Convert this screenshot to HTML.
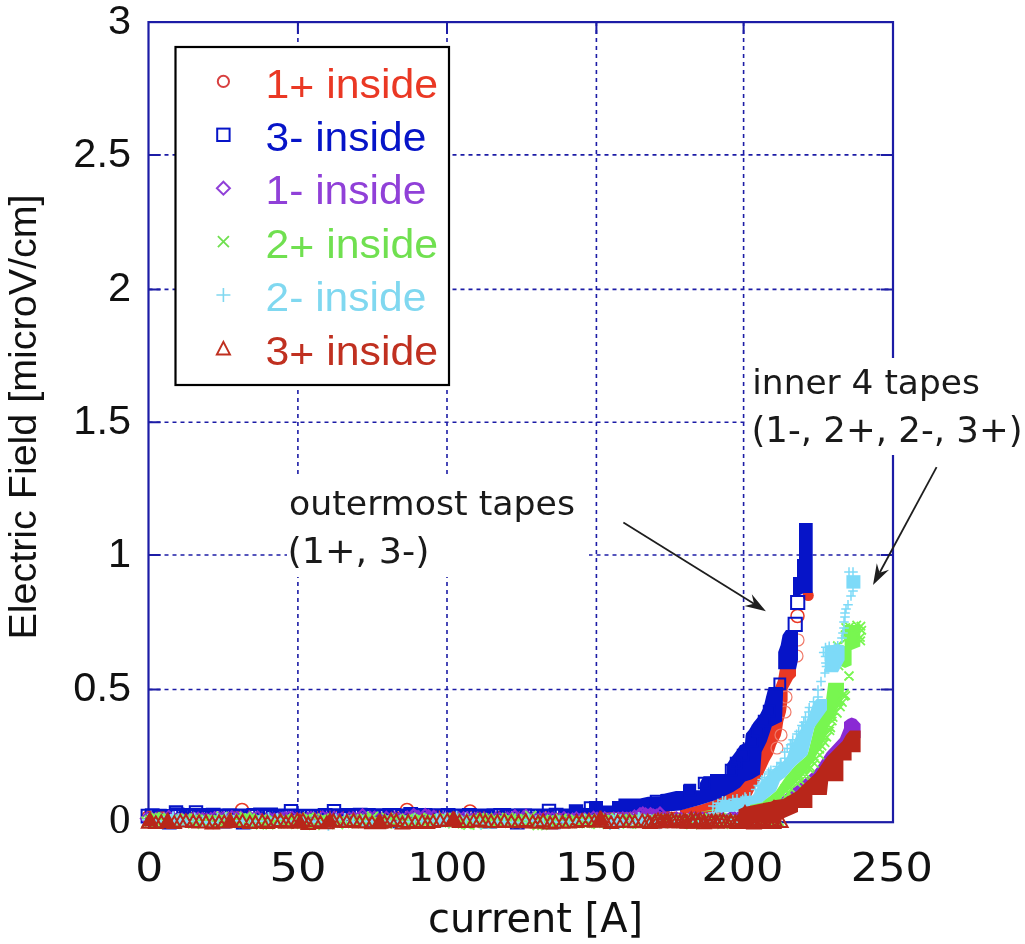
<!DOCTYPE html><html><head><meta charset="utf-8"><title>Electric Field vs current</title>
<style>html,body{margin:0;padding:0;background:#fff;}svg{display:block;}.sans{font-family:"Liberation Sans",Arial,sans-serif;}.serif{font-family:"Liberation Serif","Times New Roman",serif;}.dv{font-family:"DejaVu Sans",Verdana,sans-serif;}</style></head><body>
<svg width="1025" height="944" viewBox="0 0 1025 944">
<rect x="0" y="0" width="1025" height="944" fill="#fff"/>
<path d="M297.9 22.1V822.2 M447.0 22.1V822.2 M596.4 22.1V822.2 M743.6 22.1V822.2 M148.5 154.9H893.0 M148.5 289.4H893.0 M148.5 422.3H893.0 M148.5 555.0H893.0 M148.5 689.5H893.0" stroke="#1c1ca6" stroke-width="1.6" stroke-dasharray="4 4" fill="none"/>
<path d="M297.9 22.1v12M297.9 822.2v-12 M447.0 22.1v12M447.0 822.2v-12 M596.4 22.1v12M596.4 822.2v-12 M743.6 22.1v12M743.6 822.2v-12 M148.5 154.9h12M893.0 154.9h-12 M148.5 289.4h12M893.0 289.4h-12 M148.5 422.3h12M893.0 422.3h-12 M148.5 555.0h12M893.0 555.0h-12 M148.5 689.5h12M893.0 689.5h-12" stroke="#1c1ca6" stroke-width="2" fill="none"/>
<rect x="148.5" y="22.1" width="744.5" height="800.1" fill="none" stroke="#1c1ca6" stroke-width="2.2"/>
<g>
<path d="M142.0 817.0a6 6 0 1 0 12 0a6 6 0 1 0 -12 0M146.4 819.0a6 6 0 1 0 12 0a6 6 0 1 0 -12 0M150.1 816.9a6 6 0 1 0 12 0a6 6 0 1 0 -12 0M153.4 818.4a6 6 0 1 0 12 0a6 6 0 1 0 -12 0M157.1 817.0a6 6 0 1 0 12 0a6 6 0 1 0 -12 0M160.3 816.9a6 6 0 1 0 12 0a6 6 0 1 0 -12 0M163.7 820.3a6 6 0 1 0 12 0a6 6 0 1 0 -12 0M167.8 819.7a6 6 0 1 0 12 0a6 6 0 1 0 -12 0M170.8 821.6a6 6 0 1 0 12 0a6 6 0 1 0 -12 0M174.8 818.2a6 6 0 1 0 12 0a6 6 0 1 0 -12 0M178.7 818.6a6 6 0 1 0 12 0a6 6 0 1 0 -12 0M182.5 818.7a6 6 0 1 0 12 0a6 6 0 1 0 -12 0M185.6 818.8a6 6 0 1 0 12 0a6 6 0 1 0 -12 0M188.7 819.3a6 6 0 1 0 12 0a6 6 0 1 0 -12 0M192.4 816.4a6 6 0 1 0 12 0a6 6 0 1 0 -12 0M196.1 819.3a6 6 0 1 0 12 0a6 6 0 1 0 -12 0M200.1 816.7a6 6 0 1 0 12 0a6 6 0 1 0 -12 0M203.8 818.5a6 6 0 1 0 12 0a6 6 0 1 0 -12 0M207.2 822.5a6 6 0 1 0 12 0a6 6 0 1 0 -12 0M211.5 818.4a6 6 0 1 0 12 0a6 6 0 1 0 -12 0M215.5 818.2a6 6 0 1 0 12 0a6 6 0 1 0 -12 0M219.0 819.3a6 6 0 1 0 12 0a6 6 0 1 0 -12 0M222.1 818.6a6 6 0 1 0 12 0a6 6 0 1 0 -12 0M226.3 817.3a6 6 0 1 0 12 0a6 6 0 1 0 -12 0M229.9 820.7a6 6 0 1 0 12 0a6 6 0 1 0 -12 0M232.9 817.9a6 6 0 1 0 12 0a6 6 0 1 0 -12 0M236.2 819.6a6 6 0 1 0 12 0a6 6 0 1 0 -12 0M240.7 817.8a6 6 0 1 0 12 0a6 6 0 1 0 -12 0M244.3 820.0a6 6 0 1 0 12 0a6 6 0 1 0 -12 0M248.5 819.2a6 6 0 1 0 12 0a6 6 0 1 0 -12 0M251.9 819.4a6 6 0 1 0 12 0a6 6 0 1 0 -12 0M256.3 819.1a6 6 0 1 0 12 0a6 6 0 1 0 -12 0M260.4 819.2a6 6 0 1 0 12 0a6 6 0 1 0 -12 0M263.6 819.1a6 6 0 1 0 12 0a6 6 0 1 0 -12 0M266.7 818.7a6 6 0 1 0 12 0a6 6 0 1 0 -12 0M270.5 817.8a6 6 0 1 0 12 0a6 6 0 1 0 -12 0M274.2 819.2a6 6 0 1 0 12 0a6 6 0 1 0 -12 0M277.4 820.3a6 6 0 1 0 12 0a6 6 0 1 0 -12 0M281.4 819.4a6 6 0 1 0 12 0a6 6 0 1 0 -12 0M284.7 819.3a6 6 0 1 0 12 0a6 6 0 1 0 -12 0M288.1 820.6a6 6 0 1 0 12 0a6 6 0 1 0 -12 0M291.5 818.1a6 6 0 1 0 12 0a6 6 0 1 0 -12 0M295.9 818.8a6 6 0 1 0 12 0a6 6 0 1 0 -12 0M300.1 819.7a6 6 0 1 0 12 0a6 6 0 1 0 -12 0M304.1 821.4a6 6 0 1 0 12 0a6 6 0 1 0 -12 0M307.4 820.6a6 6 0 1 0 12 0a6 6 0 1 0 -12 0M310.8 818.7a6 6 0 1 0 12 0a6 6 0 1 0 -12 0M314.3 817.4a6 6 0 1 0 12 0a6 6 0 1 0 -12 0M317.4 819.8a6 6 0 1 0 12 0a6 6 0 1 0 -12 0M320.7 819.4a6 6 0 1 0 12 0a6 6 0 1 0 -12 0M324.6 817.6a6 6 0 1 0 12 0a6 6 0 1 0 -12 0M329.1 819.5a6 6 0 1 0 12 0a6 6 0 1 0 -12 0M332.8 816.4a6 6 0 1 0 12 0a6 6 0 1 0 -12 0M336.1 817.4a6 6 0 1 0 12 0a6 6 0 1 0 -12 0M339.3 820.4a6 6 0 1 0 12 0a6 6 0 1 0 -12 0M342.7 817.3a6 6 0 1 0 12 0a6 6 0 1 0 -12 0M346.0 818.3a6 6 0 1 0 12 0a6 6 0 1 0 -12 0M349.3 815.7a6 6 0 1 0 12 0a6 6 0 1 0 -12 0M353.7 819.7a6 6 0 1 0 12 0a6 6 0 1 0 -12 0M357.3 817.4a6 6 0 1 0 12 0a6 6 0 1 0 -12 0M360.5 821.5a6 6 0 1 0 12 0a6 6 0 1 0 -12 0M363.8 819.2a6 6 0 1 0 12 0a6 6 0 1 0 -12 0M367.9 818.4a6 6 0 1 0 12 0a6 6 0 1 0 -12 0M371.8 820.7a6 6 0 1 0 12 0a6 6 0 1 0 -12 0M375.2 819.4a6 6 0 1 0 12 0a6 6 0 1 0 -12 0M378.3 820.2a6 6 0 1 0 12 0a6 6 0 1 0 -12 0M381.7 816.3a6 6 0 1 0 12 0a6 6 0 1 0 -12 0M385.6 817.6a6 6 0 1 0 12 0a6 6 0 1 0 -12 0M389.0 819.2a6 6 0 1 0 12 0a6 6 0 1 0 -12 0M392.0 818.1a6 6 0 1 0 12 0a6 6 0 1 0 -12 0M395.4 818.1a6 6 0 1 0 12 0a6 6 0 1 0 -12 0M398.7 818.6a6 6 0 1 0 12 0a6 6 0 1 0 -12 0M402.3 817.9a6 6 0 1 0 12 0a6 6 0 1 0 -12 0M405.8 818.2a6 6 0 1 0 12 0a6 6 0 1 0 -12 0M410.1 820.2a6 6 0 1 0 12 0a6 6 0 1 0 -12 0M414.2 818.3a6 6 0 1 0 12 0a6 6 0 1 0 -12 0M418.1 818.7a6 6 0 1 0 12 0a6 6 0 1 0 -12 0M421.1 818.7a6 6 0 1 0 12 0a6 6 0 1 0 -12 0M425.4 817.6a6 6 0 1 0 12 0a6 6 0 1 0 -12 0M428.5 815.6a6 6 0 1 0 12 0a6 6 0 1 0 -12 0M432.4 816.6a6 6 0 1 0 12 0a6 6 0 1 0 -12 0M435.9 818.7a6 6 0 1 0 12 0a6 6 0 1 0 -12 0M440.4 819.8a6 6 0 1 0 12 0a6 6 0 1 0 -12 0M444.5 819.2a6 6 0 1 0 12 0a6 6 0 1 0 -12 0M448.9 818.3a6 6 0 1 0 12 0a6 6 0 1 0 -12 0M453.1 816.6a6 6 0 1 0 12 0a6 6 0 1 0 -12 0M457.4 817.4a6 6 0 1 0 12 0a6 6 0 1 0 -12 0M461.8 820.0a6 6 0 1 0 12 0a6 6 0 1 0 -12 0M466.1 816.7a6 6 0 1 0 12 0a6 6 0 1 0 -12 0M470.4 819.6a6 6 0 1 0 12 0a6 6 0 1 0 -12 0M474.2 817.7a6 6 0 1 0 12 0a6 6 0 1 0 -12 0M478.1 817.7a6 6 0 1 0 12 0a6 6 0 1 0 -12 0M482.0 820.0a6 6 0 1 0 12 0a6 6 0 1 0 -12 0M486.5 819.3a6 6 0 1 0 12 0a6 6 0 1 0 -12 0M490.8 818.3a6 6 0 1 0 12 0a6 6 0 1 0 -12 0M494.9 817.3a6 6 0 1 0 12 0a6 6 0 1 0 -12 0M498.8 816.4a6 6 0 1 0 12 0a6 6 0 1 0 -12 0M501.9 819.3a6 6 0 1 0 12 0a6 6 0 1 0 -12 0M506.1 820.1a6 6 0 1 0 12 0a6 6 0 1 0 -12 0M509.8 818.8a6 6 0 1 0 12 0a6 6 0 1 0 -12 0M513.1 818.1a6 6 0 1 0 12 0a6 6 0 1 0 -12 0M517.0 817.2a6 6 0 1 0 12 0a6 6 0 1 0 -12 0M521.4 818.5a6 6 0 1 0 12 0a6 6 0 1 0 -12 0M524.9 818.7a6 6 0 1 0 12 0a6 6 0 1 0 -12 0M528.9 818.7a6 6 0 1 0 12 0a6 6 0 1 0 -12 0M533.3 819.2a6 6 0 1 0 12 0a6 6 0 1 0 -12 0M537.2 816.1a6 6 0 1 0 12 0a6 6 0 1 0 -12 0M540.7 819.4a6 6 0 1 0 12 0a6 6 0 1 0 -12 0M544.7 818.9a6 6 0 1 0 12 0a6 6 0 1 0 -12 0M548.9 819.7a6 6 0 1 0 12 0a6 6 0 1 0 -12 0M553.3 819.4a6 6 0 1 0 12 0a6 6 0 1 0 -12 0M557.2 817.7a6 6 0 1 0 12 0a6 6 0 1 0 -12 0M560.7 819.4a6 6 0 1 0 12 0a6 6 0 1 0 -12 0M564.9 819.6a6 6 0 1 0 12 0a6 6 0 1 0 -12 0M569.2 817.8a6 6 0 1 0 12 0a6 6 0 1 0 -12 0M572.6 815.6a6 6 0 1 0 12 0a6 6 0 1 0 -12 0M575.9 817.6a6 6 0 1 0 12 0a6 6 0 1 0 -12 0M579.2 818.8a6 6 0 1 0 12 0a6 6 0 1 0 -12 0M582.8 817.5a6 6 0 1 0 12 0a6 6 0 1 0 -12 0M586.3 817.5a6 6 0 1 0 12 0a6 6 0 1 0 -12 0M590.5 819.8a6 6 0 1 0 12 0a6 6 0 1 0 -12 0M593.7 818.4a6 6 0 1 0 12 0a6 6 0 1 0 -12 0M596.7 818.7a6 6 0 1 0 12 0a6 6 0 1 0 -12 0M600.8 818.2a6 6 0 1 0 12 0a6 6 0 1 0 -12 0M604.6 817.7a6 6 0 1 0 12 0a6 6 0 1 0 -12 0M607.6 820.5a6 6 0 1 0 12 0a6 6 0 1 0 -12 0M610.8 818.2a6 6 0 1 0 12 0a6 6 0 1 0 -12 0M615.1 818.6a6 6 0 1 0 12 0a6 6 0 1 0 -12 0M618.4 818.7a6 6 0 1 0 12 0a6 6 0 1 0 -12 0M622.4 818.8a6 6 0 1 0 12 0a6 6 0 1 0 -12 0M626.1 817.3a6 6 0 1 0 12 0a6 6 0 1 0 -12 0M630.3 817.2a6 6 0 1 0 12 0a6 6 0 1 0 -12 0M634.7 818.2a6 6 0 1 0 12 0a6 6 0 1 0 -12 0M638.4 817.8a6 6 0 1 0 12 0a6 6 0 1 0 -12 0M641.7 819.9a6 6 0 1 0 12 0a6 6 0 1 0 -12 0M645.8 818.6a6 6 0 1 0 12 0a6 6 0 1 0 -12 0M649.0 818.3a6 6 0 1 0 12 0a6 6 0 1 0 -12 0M653.1 819.6a6 6 0 1 0 12 0a6 6 0 1 0 -12 0M656.9 817.0a6 6 0 1 0 12 0a6 6 0 1 0 -12 0M660.4 817.2a6 6 0 1 0 12 0a6 6 0 1 0 -12 0M664.6 818.9a6 6 0 1 0 12 0a6 6 0 1 0 -12 0M669.0 818.2a6 6 0 1 0 12 0a6 6 0 1 0 -12 0M673.1 819.4a6 6 0 1 0 12 0a6 6 0 1 0 -12 0M677.1 819.5a6 6 0 1 0 12 0a6 6 0 1 0 -12 0M681.4 817.4a6 6 0 1 0 12 0a6 6 0 1 0 -12 0M685.7 819.6a6 6 0 1 0 12 0a6 6 0 1 0 -12 0M689.9 819.8a6 6 0 1 0 12 0a6 6 0 1 0 -12 0M693.9 818.0a6 6 0 1 0 12 0a6 6 0 1 0 -12 0M697.2 818.1a6 6 0 1 0 12 0a6 6 0 1 0 -12 0M701.2 816.3a6 6 0 1 0 12 0a6 6 0 1 0 -12 0M705.3 819.1a6 6 0 1 0 12 0a6 6 0 1 0 -12 0M709.7 821.0a6 6 0 1 0 12 0a6 6 0 1 0 -12 0M235.5 810.0a6.5 6.5 0 1 0 13.0 0a6.5 6.5 0 1 0 -13.0 0M400.5 810.0a6.5 6.5 0 1 0 13.0 0a6.5 6.5 0 1 0 -13.0 0M463.5 811.5a6.5 6.5 0 1 0 13.0 0a6.5 6.5 0 1 0 -13.0 0" fill="none" stroke="#ea3824" stroke-width="1.6"/>
<path d="M680.0 813.5L720.0 813.5L723.0 805.0L740.0 800.0L750.3 798.0L755.0 788.5L762.0 776.8L769.0 761.6L773.0 754.5L776.0 745.2L780.7 735.9L782.0 730.0L783.3 721.4L786.0 712.0L787.6 700.0L787.6 689.0L793.0 679.0L796.0 676.0L796.0 668.0L780.0 668.0L778.0 680.0L770.0 700.0L755.0 740.0L740.0 770.0L715.0 800.0L700.0 805.0L680.0 810.0Z" fill="#ea3824"/>
<path d="M792.0 640.0a6 6 0 1 0 12 0a6 6 0 1 0 -12 0M791.0 656.0a6 6 0 1 0 12 0a6 6 0 1 0 -12 0M780.0 697.0a6 6 0 1 0 12 0a6 6 0 1 0 -12 0M779.0 712.0a6 6 0 1 0 12 0a6 6 0 1 0 -12 0M775.0 735.0a6 6 0 1 0 12 0a6 6 0 1 0 -12 0M771.0 748.0a6 6 0 1 0 12 0a6 6 0 1 0 -12 0" fill="none" stroke="#f07a6a" stroke-width="1.2"/>
<path d="M791.0 616.0a6.5 6.5 0 1 0 13.0 0a6.5 6.5 0 1 0 -13.0 0" fill="none" stroke="#ea3824" stroke-width="1.5"/>
<circle cx="808.2" cy="595.5" r="5.6" fill="#ea3824"/>
<path d="M141.6 809.7h12.8v12.8h-12.8zM145.8 809.2h12.8v12.8h-12.8zM149.1 814.2h12.8v12.8h-12.8zM153.0 809.8h12.8v12.8h-12.8zM155.9 810.4h12.8v12.8h-12.8zM158.9 810.0h12.8v12.8h-12.8zM162.9 815.7h12.8v12.8h-12.8zM166.8 810.1h12.8v12.8h-12.8zM170.6 808.4h12.8v12.8h-12.8zM173.6 809.7h12.8v12.8h-12.8zM177.2 809.5h12.8v12.8h-12.8zM180.7 808.9h12.8v12.8h-12.8zM184.4 808.9h12.8v12.8h-12.8zM188.5 810.3h12.8v12.8h-12.8zM192.6 809.0h12.8v12.8h-12.8zM195.7 809.5h12.8v12.8h-12.8zM199.3 810.9h12.8v12.8h-12.8zM202.8 809.8h12.8v12.8h-12.8zM206.8 808.8h12.8v12.8h-12.8zM209.7 809.6h12.8v12.8h-12.8zM213.2 810.0h12.8v12.8h-12.8zM216.7 814.8h12.8v12.8h-12.8zM220.1 810.1h12.8v12.8h-12.8zM223.4 809.3h12.8v12.8h-12.8zM227.1 810.2h12.8v12.8h-12.8zM230.0 810.2h12.8v12.8h-12.8zM233.1 809.4h12.8v12.8h-12.8zM236.8 815.8h12.8v12.8h-12.8zM240.7 814.5h12.8v12.8h-12.8zM243.8 809.6h12.8v12.8h-12.8zM247.3 809.1h12.8v12.8h-12.8zM250.3 809.9h12.8v12.8h-12.8zM254.1 808.6h12.8v12.8h-12.8zM257.8 809.4h12.8v12.8h-12.8zM260.9 810.0h12.8v12.8h-12.8zM264.2 808.6h12.8v12.8h-12.8zM268.4 810.6h12.8v12.8h-12.8zM271.4 809.6h12.8v12.8h-12.8zM275.3 810.4h12.8v12.8h-12.8zM278.7 810.1h12.8v12.8h-12.8zM281.7 809.6h12.8v12.8h-12.8zM284.8 809.5h12.8v12.8h-12.8zM289.0 810.0h12.8v12.8h-12.8zM292.9 810.0h12.8v12.8h-12.8zM296.7 809.8h12.8v12.8h-12.8zM299.6 809.7h12.8v12.8h-12.8zM303.2 809.8h12.8v12.8h-12.8zM306.3 809.9h12.8v12.8h-12.8zM310.6 809.7h12.8v12.8h-12.8zM314.8 809.7h12.8v12.8h-12.8zM318.7 809.0h12.8v12.8h-12.8zM322.2 809.7h12.8v12.8h-12.8zM325.0 809.8h12.8v12.8h-12.8zM328.5 809.3h12.8v12.8h-12.8zM331.9 809.9h12.8v12.8h-12.8zM334.7 810.1h12.8v12.8h-12.8zM338.7 810.1h12.8v12.8h-12.8zM342.1 809.1h12.8v12.8h-12.8zM345.7 809.7h12.8v12.8h-12.8zM349.8 809.2h12.8v12.8h-12.8zM353.8 808.7h12.8v12.8h-12.8zM357.9 810.2h12.8v12.8h-12.8zM361.9 808.9h12.8v12.8h-12.8zM364.8 810.0h12.8v12.8h-12.8zM368.3 814.4h12.8v12.8h-12.8zM372.0 810.2h12.8v12.8h-12.8zM376.2 809.2h12.8v12.8h-12.8zM379.9 810.2h12.8v12.8h-12.8zM383.3 809.1h12.8v12.8h-12.8zM387.2 809.0h12.8v12.8h-12.8zM390.1 809.6h12.8v12.8h-12.8zM393.5 814.5h12.8v12.8h-12.8zM396.6 809.9h12.8v12.8h-12.8zM400.7 809.8h12.8v12.8h-12.8zM404.3 808.1h12.8v12.8h-12.8zM408.0 808.9h12.8v12.8h-12.8zM410.9 809.6h12.8v12.8h-12.8zM415.1 809.4h12.8v12.8h-12.8zM418.6 808.9h12.8v12.8h-12.8zM421.5 809.6h12.8v12.8h-12.8zM425.0 809.2h12.8v12.8h-12.8zM428.2 809.3h12.8v12.8h-12.8zM431.8 809.5h12.8v12.8h-12.8zM434.7 809.2h12.8v12.8h-12.8zM437.5 809.6h12.8v12.8h-12.8zM441.7 809.1h12.8v12.8h-12.8zM444.5 809.8h12.8v12.8h-12.8zM448.7 809.5h12.8v12.8h-12.8zM452.2 809.6h12.8v12.8h-12.8zM456.4 810.2h12.8v12.8h-12.8zM459.9 809.9h12.8v12.8h-12.8zM462.9 809.0h12.8v12.8h-12.8zM466.4 810.2h12.8v12.8h-12.8zM469.4 809.8h12.8v12.8h-12.8zM473.2 809.5h12.8v12.8h-12.8zM476.6 810.3h12.8v12.8h-12.8zM480.2 810.4h12.8v12.8h-12.8zM483.4 814.7h12.8v12.8h-12.8zM487.5 809.3h12.8v12.8h-12.8zM490.7 809.3h12.8v12.8h-12.8zM494.3 809.0h12.8v12.8h-12.8zM497.4 809.0h12.8v12.8h-12.8zM501.7 809.7h12.8v12.8h-12.8zM504.6 809.5h12.8v12.8h-12.8zM508.0 810.1h12.8v12.8h-12.8zM510.9 815.7h12.8v12.8h-12.8zM514.8 809.3h12.8v12.8h-12.8zM518.3 809.2h12.8v12.8h-12.8zM521.6 809.7h12.8v12.8h-12.8zM524.6 809.4h12.8v12.8h-12.8zM528.3 809.7h12.8v12.8h-12.8zM531.5 810.1h12.8v12.8h-12.8zM534.8 810.0h12.8v12.8h-12.8zM538.5 809.6h12.8v12.8h-12.8zM542.6 809.4h12.8v12.8h-12.8zM546.8 815.4h12.8v12.8h-12.8zM549.7 808.8h12.8v12.8h-12.8zM552.9 809.7h12.8v12.8h-12.8zM555.8 809.5h12.8v12.8h-12.8zM559.1 809.4h12.8v12.8h-12.8zM562.9 809.9h12.8v12.8h-12.8zM566.8 810.0h12.8v12.8h-12.8zM569.8 808.6h12.8v12.8h-12.8zM574.0 809.1h12.8v12.8h-12.8zM577.5 809.5h12.8v12.8h-12.8zM580.9 810.0h12.8v12.8h-12.8zM585.0 809.3h12.8v12.8h-12.8zM588.4 810.0h12.8v12.8h-12.8zM591.7 808.8h12.8v12.8h-12.8zM284.8 805.0h12.4v12.4h-12.4zM327.8 805.0h12.4v12.4h-12.4zM542.8 804.8h12.4v12.4h-12.4zM569.8 805.3h12.4v12.4h-12.4zM169.8 806.3h12.4v12.4h-12.4zM189.8 806.3h12.4v12.4h-12.4z" fill="none" stroke="#0614c8" stroke-width="2"/>
<path d="M560.0 809.2L570.0 809.2L570.0 805.4L583.0 805.4L583.0 808.0L589.0 808.0L589.0 801.0L603.0 801.0L603.0 805.4L612.0 805.4L612.0 801.0L618.4 801.0L618.4 798.4L640.0 798.4L648.0 796.7L660.3 796.5L660.3 794.0L664.0 793.8L676.0 791.0L683.0 791.0L683.0 784.5L695.0 784.5L695.0 790.3L700.0 790.3L700.0 782.7L703.5 776.3L710.0 776.3L710.0 774.0L727.0 774.0L727.0 764.0L731.0 758.0L737.0 750.0L740.0 745.2L745.0 742.9L746.0 733.5L749.0 730.0L753.4 722.7L759.7 715.0L763.5 707.4L766.0 697.0L768.6 687.0L783.3 687.0L782.0 721.4L771.8 726.5L766.7 741.8L761.6 752.0L760.0 774.5L752.0 779.2L745.0 781.5L740.0 787.4L733.0 792.0L722.0 797.3L715.0 800.3L700.0 805.0L680.0 810.5L660.0 812.0L560.0 813.0Z" fill="#0614c8"/>
<path d="M786.0 630.0L782.6 635.0L780.7 645.0L778.2 652.0L778.2 669.3L796.0 669.3L798.0 660.0L798.0 630.0Z" fill="#0614c8"/>
<path d="M799.0 523.0L812.7 523.0L812.7 593.0L804.0 593.0L800.0 595.0L793.0 595.0L793.0 577.0L797.0 577.0L797.0 559.0L799.0 559.0Z" fill="#0614c8"/>
<path d="M791.1 595.9h13.2v13.2h-13.2zM788.6 617.7h13.2v13.2h-13.2zM774.4 678.5h10.8v10.8h-10.8zM584.8 802.3h10.4v10.4h-10.4zM650.8 795.8h10.4v10.4h-10.4zM684.8 784.8h10.4v10.4h-10.4zM698.8 777.8h10.4v10.4h-10.4zM725.8 764.8h10.4v10.4h-10.4zM730.8 757.8h10.4v10.4h-10.4zM737.8 749.8h10.4v10.4h-10.4zM746.8 735.8h10.4v10.4h-10.4zM752.8 725.8h10.4v10.4h-10.4zM758.8 715.8h10.4v10.4h-10.4zM763.8 705.8h10.4v10.4h-10.4z" fill="none" stroke="#0614c8" stroke-width="2"/>
<path d="M147.0 812.3l6.3 6.3l-6.3 6.3l-6.3 -6.3zM151.6 812.4l6.3 6.3l-6.3 6.3l-6.3 -6.3zM156.0 812.7l6.3 6.3l-6.3 6.3l-6.3 -6.3zM160.6 812.9l6.3 6.3l-6.3 6.3l-6.3 -6.3zM164.7 813.1l6.3 6.3l-6.3 6.3l-6.3 -6.3zM168.8 810.8l6.3 6.3l-6.3 6.3l-6.3 -6.3zM173.1 811.9l6.3 6.3l-6.3 6.3l-6.3 -6.3zM177.6 813.9l6.3 6.3l-6.3 6.3l-6.3 -6.3zM182.1 813.3l6.3 6.3l-6.3 6.3l-6.3 -6.3zM185.5 814.2l6.3 6.3l-6.3 6.3l-6.3 -6.3zM190.1 813.6l6.3 6.3l-6.3 6.3l-6.3 -6.3zM193.6 812.6l6.3 6.3l-6.3 6.3l-6.3 -6.3zM198.0 812.5l6.3 6.3l-6.3 6.3l-6.3 -6.3zM202.3 812.9l6.3 6.3l-6.3 6.3l-6.3 -6.3zM206.7 813.5l6.3 6.3l-6.3 6.3l-6.3 -6.3zM210.8 813.0l6.3 6.3l-6.3 6.3l-6.3 -6.3zM214.6 812.0l6.3 6.3l-6.3 6.3l-6.3 -6.3zM219.4 812.4l6.3 6.3l-6.3 6.3l-6.3 -6.3zM223.5 812.0l6.3 6.3l-6.3 6.3l-6.3 -6.3zM227.8 812.4l6.3 6.3l-6.3 6.3l-6.3 -6.3zM231.8 811.0l6.3 6.3l-6.3 6.3l-6.3 -6.3zM236.3 812.0l6.3 6.3l-6.3 6.3l-6.3 -6.3zM240.8 811.4l6.3 6.3l-6.3 6.3l-6.3 -6.3zM245.4 814.6l6.3 6.3l-6.3 6.3l-6.3 -6.3zM249.6 811.4l6.3 6.3l-6.3 6.3l-6.3 -6.3zM253.7 812.5l6.3 6.3l-6.3 6.3l-6.3 -6.3zM257.6 811.3l6.3 6.3l-6.3 6.3l-6.3 -6.3zM261.6 813.8l6.3 6.3l-6.3 6.3l-6.3 -6.3zM266.4 814.1l6.3 6.3l-6.3 6.3l-6.3 -6.3zM270.2 813.2l6.3 6.3l-6.3 6.3l-6.3 -6.3zM274.2 813.4l6.3 6.3l-6.3 6.3l-6.3 -6.3zM277.9 813.2l6.3 6.3l-6.3 6.3l-6.3 -6.3zM281.7 812.8l6.3 6.3l-6.3 6.3l-6.3 -6.3zM285.1 812.0l6.3 6.3l-6.3 6.3l-6.3 -6.3zM288.7 811.7l6.3 6.3l-6.3 6.3l-6.3 -6.3zM292.1 811.7l6.3 6.3l-6.3 6.3l-6.3 -6.3zM296.8 813.2l6.3 6.3l-6.3 6.3l-6.3 -6.3zM300.1 813.3l6.3 6.3l-6.3 6.3l-6.3 -6.3zM303.7 813.3l6.3 6.3l-6.3 6.3l-6.3 -6.3zM307.4 812.7l6.3 6.3l-6.3 6.3l-6.3 -6.3zM311.0 811.7l6.3 6.3l-6.3 6.3l-6.3 -6.3zM314.6 812.8l6.3 6.3l-6.3 6.3l-6.3 -6.3zM319.0 813.4l6.3 6.3l-6.3 6.3l-6.3 -6.3zM322.8 811.3l6.3 6.3l-6.3 6.3l-6.3 -6.3zM326.8 812.4l6.3 6.3l-6.3 6.3l-6.3 -6.3zM330.5 814.4l6.3 6.3l-6.3 6.3l-6.3 -6.3zM334.3 811.6l6.3 6.3l-6.3 6.3l-6.3 -6.3zM338.4 813.9l6.3 6.3l-6.3 6.3l-6.3 -6.3zM342.1 812.6l6.3 6.3l-6.3 6.3l-6.3 -6.3zM345.5 814.4l6.3 6.3l-6.3 6.3l-6.3 -6.3zM349.3 812.4l6.3 6.3l-6.3 6.3l-6.3 -6.3zM353.4 812.2l6.3 6.3l-6.3 6.3l-6.3 -6.3zM358.2 812.8l6.3 6.3l-6.3 6.3l-6.3 -6.3zM362.5 812.9l6.3 6.3l-6.3 6.3l-6.3 -6.3zM366.5 813.0l6.3 6.3l-6.3 6.3l-6.3 -6.3zM370.4 813.3l6.3 6.3l-6.3 6.3l-6.3 -6.3zM374.6 811.5l6.3 6.3l-6.3 6.3l-6.3 -6.3zM378.1 813.3l6.3 6.3l-6.3 6.3l-6.3 -6.3zM381.8 813.6l6.3 6.3l-6.3 6.3l-6.3 -6.3zM386.4 811.6l6.3 6.3l-6.3 6.3l-6.3 -6.3zM391.2 812.8l6.3 6.3l-6.3 6.3l-6.3 -6.3zM394.9 812.4l6.3 6.3l-6.3 6.3l-6.3 -6.3zM399.3 812.8l6.3 6.3l-6.3 6.3l-6.3 -6.3zM402.6 813.7l6.3 6.3l-6.3 6.3l-6.3 -6.3zM407.2 811.3l6.3 6.3l-6.3 6.3l-6.3 -6.3zM410.6 812.7l6.3 6.3l-6.3 6.3l-6.3 -6.3zM414.0 814.3l6.3 6.3l-6.3 6.3l-6.3 -6.3zM418.1 810.7l6.3 6.3l-6.3 6.3l-6.3 -6.3zM422.2 813.3l6.3 6.3l-6.3 6.3l-6.3 -6.3zM426.8 812.4l6.3 6.3l-6.3 6.3l-6.3 -6.3zM430.8 814.4l6.3 6.3l-6.3 6.3l-6.3 -6.3zM435.4 814.3l6.3 6.3l-6.3 6.3l-6.3 -6.3zM439.0 813.8l6.3 6.3l-6.3 6.3l-6.3 -6.3zM443.2 812.4l6.3 6.3l-6.3 6.3l-6.3 -6.3zM447.7 812.8l6.3 6.3l-6.3 6.3l-6.3 -6.3zM451.5 812.8l6.3 6.3l-6.3 6.3l-6.3 -6.3zM455.2 813.2l6.3 6.3l-6.3 6.3l-6.3 -6.3zM459.2 812.7l6.3 6.3l-6.3 6.3l-6.3 -6.3zM463.6 812.1l6.3 6.3l-6.3 6.3l-6.3 -6.3zM467.0 812.1l6.3 6.3l-6.3 6.3l-6.3 -6.3zM471.8 813.5l6.3 6.3l-6.3 6.3l-6.3 -6.3zM476.3 812.8l6.3 6.3l-6.3 6.3l-6.3 -6.3zM480.2 812.8l6.3 6.3l-6.3 6.3l-6.3 -6.3zM484.6 813.0l6.3 6.3l-6.3 6.3l-6.3 -6.3zM488.5 814.1l6.3 6.3l-6.3 6.3l-6.3 -6.3zM491.9 814.5l6.3 6.3l-6.3 6.3l-6.3 -6.3zM495.5 812.8l6.3 6.3l-6.3 6.3l-6.3 -6.3zM499.7 812.7l6.3 6.3l-6.3 6.3l-6.3 -6.3zM503.8 813.7l6.3 6.3l-6.3 6.3l-6.3 -6.3zM507.5 812.4l6.3 6.3l-6.3 6.3l-6.3 -6.3zM511.8 813.7l6.3 6.3l-6.3 6.3l-6.3 -6.3zM515.5 813.4l6.3 6.3l-6.3 6.3l-6.3 -6.3zM519.3 814.3l6.3 6.3l-6.3 6.3l-6.3 -6.3zM524.0 811.6l6.3 6.3l-6.3 6.3l-6.3 -6.3zM527.8 812.3l6.3 6.3l-6.3 6.3l-6.3 -6.3zM532.4 813.3l6.3 6.3l-6.3 6.3l-6.3 -6.3zM535.8 813.2l6.3 6.3l-6.3 6.3l-6.3 -6.3zM540.1 812.8l6.3 6.3l-6.3 6.3l-6.3 -6.3zM544.0 812.4l6.3 6.3l-6.3 6.3l-6.3 -6.3zM548.6 812.6l6.3 6.3l-6.3 6.3l-6.3 -6.3zM552.2 812.7l6.3 6.3l-6.3 6.3l-6.3 -6.3zM555.8 813.6l6.3 6.3l-6.3 6.3l-6.3 -6.3zM559.2 813.5l6.3 6.3l-6.3 6.3l-6.3 -6.3zM563.9 811.9l6.3 6.3l-6.3 6.3l-6.3 -6.3zM568.1 813.4l6.3 6.3l-6.3 6.3l-6.3 -6.3zM572.6 813.3l6.3 6.3l-6.3 6.3l-6.3 -6.3zM576.4 812.1l6.3 6.3l-6.3 6.3l-6.3 -6.3zM580.3 813.8l6.3 6.3l-6.3 6.3l-6.3 -6.3zM584.6 813.0l6.3 6.3l-6.3 6.3l-6.3 -6.3zM589.4 813.2l6.3 6.3l-6.3 6.3l-6.3 -6.3zM593.6 811.6l6.3 6.3l-6.3 6.3l-6.3 -6.3zM597.0 812.5l6.3 6.3l-6.3 6.3l-6.3 -6.3zM601.2 813.6l6.3 6.3l-6.3 6.3l-6.3 -6.3zM604.7 812.1l6.3 6.3l-6.3 6.3l-6.3 -6.3zM609.2 813.6l6.3 6.3l-6.3 6.3l-6.3 -6.3zM613.7 812.5l6.3 6.3l-6.3 6.3l-6.3 -6.3zM618.2 812.6l6.3 6.3l-6.3 6.3l-6.3 -6.3zM622.8 812.1l6.3 6.3l-6.3 6.3l-6.3 -6.3zM626.9 812.6l6.3 6.3l-6.3 6.3l-6.3 -6.3zM630.4 812.3l6.3 6.3l-6.3 6.3l-6.3 -6.3zM634.5 810.3l6.3 6.3l-6.3 6.3l-6.3 -6.3zM638.8 813.2l6.3 6.3l-6.3 6.3l-6.3 -6.3zM643.5 812.4l6.3 6.3l-6.3 6.3l-6.3 -6.3zM647.8 813.0l6.3 6.3l-6.3 6.3l-6.3 -6.3zM651.5 813.3l6.3 6.3l-6.3 6.3l-6.3 -6.3zM655.6 812.6l6.3 6.3l-6.3 6.3l-6.3 -6.3zM660.3 812.1l6.3 6.3l-6.3 6.3l-6.3 -6.3zM664.2 812.4l6.3 6.3l-6.3 6.3l-6.3 -6.3zM668.9 813.0l6.3 6.3l-6.3 6.3l-6.3 -6.3zM672.4 813.8l6.3 6.3l-6.3 6.3l-6.3 -6.3zM676.6 812.3l6.3 6.3l-6.3 6.3l-6.3 -6.3zM680.7 812.7l6.3 6.3l-6.3 6.3l-6.3 -6.3zM685.5 814.9l6.3 6.3l-6.3 6.3l-6.3 -6.3zM690.0 812.5l6.3 6.3l-6.3 6.3l-6.3 -6.3zM694.6 812.6l6.3 6.3l-6.3 6.3l-6.3 -6.3zM698.3 813.4l6.3 6.3l-6.3 6.3l-6.3 -6.3zM702.4 812.5l6.3 6.3l-6.3 6.3l-6.3 -6.3zM707.0 813.3l6.3 6.3l-6.3 6.3l-6.3 -6.3zM710.4 813.9l6.3 6.3l-6.3 6.3l-6.3 -6.3zM713.8 814.0l6.3 6.3l-6.3 6.3l-6.3 -6.3zM718.5 815.3l6.3 6.3l-6.3 6.3l-6.3 -6.3zM722.8 812.4l6.3 6.3l-6.3 6.3l-6.3 -6.3zM727.2 814.2l6.3 6.3l-6.3 6.3l-6.3 -6.3zM731.0 811.5l6.3 6.3l-6.3 6.3l-6.3 -6.3zM734.4 812.0l6.3 6.3l-6.3 6.3l-6.3 -6.3zM738.0 812.4l6.3 6.3l-6.3 6.3l-6.3 -6.3zM741.8 813.0l6.3 6.3l-6.3 6.3l-6.3 -6.3zM746.0 813.4l6.3 6.3l-6.3 6.3l-6.3 -6.3zM749.7 813.9l6.3 6.3l-6.3 6.3l-6.3 -6.3zM753.8 812.3l6.3 6.3l-6.3 6.3l-6.3 -6.3zM757.2 814.0l6.3 6.3l-6.3 6.3l-6.3 -6.3zM761.5 814.3l6.3 6.3l-6.3 6.3l-6.3 -6.3zM765.7 814.7l6.3 6.3l-6.3 6.3l-6.3 -6.3zM769.7 811.8l6.3 6.3l-6.3 6.3l-6.3 -6.3z" fill="none" stroke="#8a2ad4" stroke-width="1.8"/>
<path d="M353.0 812.7l6 6l-6 6l-6 -6zM356.0 813.8l6 6l-6 6l-6 -6zM359.3 813.4l6 6l-6 6l-6 -6zM362.5 809.2l6 6l-6 6l-6 -6zM365.1 814.7l6 6l-6 6l-6 -6zM367.9 814.4l6 6l-6 6l-6 -6zM369.9 811.8l6 6l-6 6l-6 -6z" fill="none" stroke="#8a2ad4" stroke-width="2.2"/>
<path d="M411.0 812.3l6 6l-6 6l-6 -6zM413.7 809.1l6 6l-6 6l-6 -6zM415.9 810.7l6 6l-6 6l-6 -6zM419.1 813.6l6 6l-6 6l-6 -6zM421.2 813.8l6 6l-6 6l-6 -6zM423.2 812.7l6 6l-6 6l-6 -6zM425.2 809.0l6 6l-6 6l-6 -6zM428.4 810.3l6 6l-6 6l-6 -6zM430.6 814.9l6 6l-6 6l-6 -6zM433.8 810.7l6 6l-6 6l-6 -6z" fill="none" stroke="#8a2ad4" stroke-width="2.2"/>
<path d="M512.0 812.2l6 6l-6 6l-6 -6zM514.9 810.2l6 6l-6 6l-6 -6zM518.2 813.1l6 6l-6 6l-6 -6zM521.5 814.4l6 6l-6 6l-6 -6zM523.8 811.2l6 6l-6 6l-6 -6zM525.9 809.9l6 6l-6 6l-6 -6z" fill="none" stroke="#8a2ad4" stroke-width="2.2"/>
<path d="M640.0 808.4l6 6l-6 6l-6 -6zM642.8 807.5l6 6l-6 6l-6 -6zM645.6 808.5l6 6l-6 6l-6 -6zM647.9 810.0l6 6l-6 6l-6 -6zM650.5 808.4l6 6l-6 6l-6 -6zM653.1 809.6l6 6l-6 6l-6 -6zM655.0 810.4l6 6l-6 6l-6 -6zM656.8 809.7l6 6l-6 6l-6 -6zM660.0 807.6l6 6l-6 6l-6 -6z" fill="none" stroke="#8a2ad4" stroke-width="2.2"/>
<path d="M770.0 808.0L780.0 799.0L784.0 795.0L800.7 782.6L815.8 768.9L826.8 752.3L840.0 738.0L844.0 728.0L844.0 722.0L848.0 719.0L851.6 717.5L856.0 719.0L860.6 724.0L860.6 738.0L845.0 745.0L820.0 775.0L790.0 800.0Z" fill="#8a2ad4"/>
<path d="M141.5 816.6l11.0 11.0m0 -11.0l-11.0 11.0M144.8 815.5l11.0 11.0m0 -11.0l-11.0 11.0M148.4 813.8l11.0 11.0m0 -11.0l-11.0 11.0M151.8 816.4l11.0 11.0m0 -11.0l-11.0 11.0M154.7 814.3l11.0 11.0m0 -11.0l-11.0 11.0M157.8 817.0l11.0 11.0m0 -11.0l-11.0 11.0M160.8 814.5l11.0 11.0m0 -11.0l-11.0 11.0M163.8 816.6l11.0 11.0m0 -11.0l-11.0 11.0M166.2 814.8l11.0 11.0m0 -11.0l-11.0 11.0M169.5 817.5l11.0 11.0m0 -11.0l-11.0 11.0M172.6 814.1l11.0 11.0m0 -11.0l-11.0 11.0M175.9 814.8l11.0 11.0m0 -11.0l-11.0 11.0M178.4 817.4l11.0 11.0m0 -11.0l-11.0 11.0M180.9 813.8l11.0 11.0m0 -11.0l-11.0 11.0M183.8 816.1l11.0 11.0m0 -11.0l-11.0 11.0M186.3 814.9l11.0 11.0m0 -11.0l-11.0 11.0M189.0 813.8l11.0 11.0m0 -11.0l-11.0 11.0M191.7 814.6l11.0 11.0m0 -11.0l-11.0 11.0M194.2 816.2l11.0 11.0m0 -11.0l-11.0 11.0M197.7 817.7l11.0 11.0m0 -11.0l-11.0 11.0M201.2 815.0l11.0 11.0m0 -11.0l-11.0 11.0M204.1 815.9l11.0 11.0m0 -11.0l-11.0 11.0M207.4 814.5l11.0 11.0m0 -11.0l-11.0 11.0M210.4 816.1l11.0 11.0m0 -11.0l-11.0 11.0M213.8 815.1l11.0 11.0m0 -11.0l-11.0 11.0M216.3 811.9l11.0 11.0m0 -11.0l-11.0 11.0M218.7 814.6l11.0 11.0m0 -11.0l-11.0 11.0M221.4 815.1l11.0 11.0m0 -11.0l-11.0 11.0M223.9 816.8l11.0 11.0m0 -11.0l-11.0 11.0M227.4 816.1l11.0 11.0m0 -11.0l-11.0 11.0M230.2 814.1l11.0 11.0m0 -11.0l-11.0 11.0M233.3 815.9l11.0 11.0m0 -11.0l-11.0 11.0M236.8 815.6l11.0 11.0m0 -11.0l-11.0 11.0M239.6 812.0l11.0 11.0m0 -11.0l-11.0 11.0M243.1 815.5l11.0 11.0m0 -11.0l-11.0 11.0M246.1 815.8l11.0 11.0m0 -11.0l-11.0 11.0M249.6 816.7l11.0 11.0m0 -11.0l-11.0 11.0M253.1 816.5l11.0 11.0m0 -11.0l-11.0 11.0M255.9 818.2l11.0 11.0m0 -11.0l-11.0 11.0M258.9 817.0l11.0 11.0m0 -11.0l-11.0 11.0M262.5 818.2l11.0 11.0m0 -11.0l-11.0 11.0M265.1 814.8l11.0 11.0m0 -11.0l-11.0 11.0M268.6 814.8l11.0 11.0m0 -11.0l-11.0 11.0M271.0 817.4l11.0 11.0m0 -11.0l-11.0 11.0M273.8 817.0l11.0 11.0m0 -11.0l-11.0 11.0M277.3 817.1l11.0 11.0m0 -11.0l-11.0 11.0M279.8 813.8l11.0 11.0m0 -11.0l-11.0 11.0M283.1 817.0l11.0 11.0m0 -11.0l-11.0 11.0M285.6 814.9l11.0 11.0m0 -11.0l-11.0 11.0M288.2 814.7l11.0 11.0m0 -11.0l-11.0 11.0M290.9 817.7l11.0 11.0m0 -11.0l-11.0 11.0M293.5 815.7l11.0 11.0m0 -11.0l-11.0 11.0M296.8 817.7l11.0 11.0m0 -11.0l-11.0 11.0M299.7 813.9l11.0 11.0m0 -11.0l-11.0 11.0M302.8 812.8l11.0 11.0m0 -11.0l-11.0 11.0M305.5 814.4l11.0 11.0m0 -11.0l-11.0 11.0M308.7 818.8l11.0 11.0m0 -11.0l-11.0 11.0M311.4 815.1l11.0 11.0m0 -11.0l-11.0 11.0M315.0 815.0l11.0 11.0m0 -11.0l-11.0 11.0M317.9 813.7l11.0 11.0m0 -11.0l-11.0 11.0M320.4 815.2l11.0 11.0m0 -11.0l-11.0 11.0M323.5 815.3l11.0 11.0m0 -11.0l-11.0 11.0M326.9 816.6l11.0 11.0m0 -11.0l-11.0 11.0M329.4 814.9l11.0 11.0m0 -11.0l-11.0 11.0M332.1 818.0l11.0 11.0m0 -11.0l-11.0 11.0M334.8 814.6l11.0 11.0m0 -11.0l-11.0 11.0M338.3 815.2l11.0 11.0m0 -11.0l-11.0 11.0M341.8 817.1l11.0 11.0m0 -11.0l-11.0 11.0M345.1 815.8l11.0 11.0m0 -11.0l-11.0 11.0M348.0 817.1l11.0 11.0m0 -11.0l-11.0 11.0M350.6 814.7l11.0 11.0m0 -11.0l-11.0 11.0M353.7 814.6l11.0 11.0m0 -11.0l-11.0 11.0M356.9 814.4l11.0 11.0m0 -11.0l-11.0 11.0M360.2 813.7l11.0 11.0m0 -11.0l-11.0 11.0M363.6 815.3l11.0 11.0m0 -11.0l-11.0 11.0M366.9 811.8l11.0 11.0m0 -11.0l-11.0 11.0M369.5 815.0l11.0 11.0m0 -11.0l-11.0 11.0M372.8 816.5l11.0 11.0m0 -11.0l-11.0 11.0M375.5 817.3l11.0 11.0m0 -11.0l-11.0 11.0M378.4 815.9l11.0 11.0m0 -11.0l-11.0 11.0M381.8 812.9l11.0 11.0m0 -11.0l-11.0 11.0M384.4 814.4l11.0 11.0m0 -11.0l-11.0 11.0M387.5 815.6l11.0 11.0m0 -11.0l-11.0 11.0M390.5 817.5l11.0 11.0m0 -11.0l-11.0 11.0M393.8 815.9l11.0 11.0m0 -11.0l-11.0 11.0M396.9 816.2l11.0 11.0m0 -11.0l-11.0 11.0M399.5 814.8l11.0 11.0m0 -11.0l-11.0 11.0M401.9 813.9l11.0 11.0m0 -11.0l-11.0 11.0M404.8 815.5l11.0 11.0m0 -11.0l-11.0 11.0M407.5 815.7l11.0 11.0m0 -11.0l-11.0 11.0M411.0 814.9l11.0 11.0m0 -11.0l-11.0 11.0M414.1 812.9l11.0 11.0m0 -11.0l-11.0 11.0M416.8 814.8l11.0 11.0m0 -11.0l-11.0 11.0M419.4 815.3l11.0 11.0m0 -11.0l-11.0 11.0M422.1 815.9l11.0 11.0m0 -11.0l-11.0 11.0M425.3 814.3l11.0 11.0m0 -11.0l-11.0 11.0M428.4 815.3l11.0 11.0m0 -11.0l-11.0 11.0M430.9 815.9l11.0 11.0m0 -11.0l-11.0 11.0M433.6 814.7l11.0 11.0m0 -11.0l-11.0 11.0M436.2 814.5l11.0 11.0m0 -11.0l-11.0 11.0M439.5 812.9l11.0 11.0m0 -11.0l-11.0 11.0M442.0 814.3l11.0 11.0m0 -11.0l-11.0 11.0M444.7 816.3l11.0 11.0m0 -11.0l-11.0 11.0M448.2 817.2l11.0 11.0m0 -11.0l-11.0 11.0M451.6 816.0l11.0 11.0m0 -11.0l-11.0 11.0M455.1 816.5l11.0 11.0m0 -11.0l-11.0 11.0M458.4 816.8l11.0 11.0m0 -11.0l-11.0 11.0M460.9 815.7l11.0 11.0m0 -11.0l-11.0 11.0M463.4 818.6l11.0 11.0m0 -11.0l-11.0 11.0M466.3 815.0l11.0 11.0m0 -11.0l-11.0 11.0M468.8 817.0l11.0 11.0m0 -11.0l-11.0 11.0M471.3 818.0l11.0 11.0m0 -11.0l-11.0 11.0M474.5 815.4l11.0 11.0m0 -11.0l-11.0 11.0M477.2 815.5l11.0 11.0m0 -11.0l-11.0 11.0M479.9 817.4l11.0 11.0m0 -11.0l-11.0 11.0M482.9 816.8l11.0 11.0m0 -11.0l-11.0 11.0M485.7 814.9l11.0 11.0m0 -11.0l-11.0 11.0M489.2 815.2l11.0 11.0m0 -11.0l-11.0 11.0M492.1 815.2l11.0 11.0m0 -11.0l-11.0 11.0M495.3 816.8l11.0 11.0m0 -11.0l-11.0 11.0M498.5 816.0l11.0 11.0m0 -11.0l-11.0 11.0M502.0 812.9l11.0 11.0m0 -11.0l-11.0 11.0M504.9 813.8l11.0 11.0m0 -11.0l-11.0 11.0M507.8 816.3l11.0 11.0m0 -11.0l-11.0 11.0M511.1 814.3l11.0 11.0m0 -11.0l-11.0 11.0M513.8 815.0l11.0 11.0m0 -11.0l-11.0 11.0M516.9 816.3l11.0 11.0m0 -11.0l-11.0 11.0M519.4 815.8l11.0 11.0m0 -11.0l-11.0 11.0M522.4 816.5l11.0 11.0m0 -11.0l-11.0 11.0M525.2 811.0l11.0 11.0m0 -11.0l-11.0 11.0M528.4 817.0l11.0 11.0m0 -11.0l-11.0 11.0M531.8 815.9l11.0 11.0m0 -11.0l-11.0 11.0M534.3 816.9l11.0 11.0m0 -11.0l-11.0 11.0M537.5 814.7l11.0 11.0m0 -11.0l-11.0 11.0M540.0 816.4l11.0 11.0m0 -11.0l-11.0 11.0M542.6 815.4l11.0 11.0m0 -11.0l-11.0 11.0M546.1 817.0l11.0 11.0m0 -11.0l-11.0 11.0M549.4 815.3l11.0 11.0m0 -11.0l-11.0 11.0M551.9 816.9l11.0 11.0m0 -11.0l-11.0 11.0M555.5 813.9l11.0 11.0m0 -11.0l-11.0 11.0M558.7 817.5l11.0 11.0m0 -11.0l-11.0 11.0M562.2 816.8l11.0 11.0m0 -11.0l-11.0 11.0M565.1 815.7l11.0 11.0m0 -11.0l-11.0 11.0M567.6 816.5l11.0 11.0m0 -11.0l-11.0 11.0M570.9 814.6l11.0 11.0m0 -11.0l-11.0 11.0M573.9 816.9l11.0 11.0m0 -11.0l-11.0 11.0M576.6 816.0l11.0 11.0m0 -11.0l-11.0 11.0M579.1 816.7l11.0 11.0m0 -11.0l-11.0 11.0M581.5 817.1l11.0 11.0m0 -11.0l-11.0 11.0M584.3 813.8l11.0 11.0m0 -11.0l-11.0 11.0M586.8 816.4l11.0 11.0m0 -11.0l-11.0 11.0M590.1 815.3l11.0 11.0m0 -11.0l-11.0 11.0M593.3 817.9l11.0 11.0m0 -11.0l-11.0 11.0M595.9 815.8l11.0 11.0m0 -11.0l-11.0 11.0M599.1 816.7l11.0 11.0m0 -11.0l-11.0 11.0M602.0 813.2l11.0 11.0m0 -11.0l-11.0 11.0M604.7 817.5l11.0 11.0m0 -11.0l-11.0 11.0M607.4 814.9l11.0 11.0m0 -11.0l-11.0 11.0M609.9 816.4l11.0 11.0m0 -11.0l-11.0 11.0M612.3 814.2l11.0 11.0m0 -11.0l-11.0 11.0M615.7 814.1l11.0 11.0m0 -11.0l-11.0 11.0M619.2 814.8l11.0 11.0m0 -11.0l-11.0 11.0M622.7 817.6l11.0 11.0m0 -11.0l-11.0 11.0M625.4 814.7l11.0 11.0m0 -11.0l-11.0 11.0M629.0 813.4l11.0 11.0m0 -11.0l-11.0 11.0M632.4 815.7l11.0 11.0m0 -11.0l-11.0 11.0M634.9 817.6l11.0 11.0m0 -11.0l-11.0 11.0M637.8 815.1l11.0 11.0m0 -11.0l-11.0 11.0M640.7 815.8l11.0 11.0m0 -11.0l-11.0 11.0M643.5 814.3l11.0 11.0m0 -11.0l-11.0 11.0M646.1 815.5l11.0 11.0m0 -11.0l-11.0 11.0M648.9 814.6l11.0 11.0m0 -11.0l-11.0 11.0M652.1 815.6l11.0 11.0m0 -11.0l-11.0 11.0M654.8 816.6l11.0 11.0m0 -11.0l-11.0 11.0M657.7 816.3l11.0 11.0m0 -11.0l-11.0 11.0M660.3 813.5l11.0 11.0m0 -11.0l-11.0 11.0M663.4 814.3l11.0 11.0m0 -11.0l-11.0 11.0M666.6 817.0l11.0 11.0m0 -11.0l-11.0 11.0M669.5 815.7l11.0 11.0m0 -11.0l-11.0 11.0M671.9 815.1l11.0 11.0m0 -11.0l-11.0 11.0M674.9 815.8l11.0 11.0m0 -11.0l-11.0 11.0M678.0 814.2l11.0 11.0m0 -11.0l-11.0 11.0M680.7 815.8l11.0 11.0m0 -11.0l-11.0 11.0M683.2 813.7l11.0 11.0m0 -11.0l-11.0 11.0M686.2 818.1l11.0 11.0m0 -11.0l-11.0 11.0M689.0 815.0l11.0 11.0m0 -11.0l-11.0 11.0M691.9 814.7l11.0 11.0m0 -11.0l-11.0 11.0M695.1 816.9l11.0 11.0m0 -11.0l-11.0 11.0M698.2 815.1l11.0 11.0m0 -11.0l-11.0 11.0M701.7 815.8l11.0 11.0m0 -11.0l-11.0 11.0M704.8 813.4l11.0 11.0m0 -11.0l-11.0 11.0M707.7 814.5l11.0 11.0m0 -11.0l-11.0 11.0M711.1 816.1l11.0 11.0m0 -11.0l-11.0 11.0M714.6 813.1l11.0 11.0m0 -11.0l-11.0 11.0M717.0 817.7l11.0 11.0m0 -11.0l-11.0 11.0M719.6 814.2l11.0 11.0m0 -11.0l-11.0 11.0M722.4 815.4l11.0 11.0m0 -11.0l-11.0 11.0M726.0 816.1l11.0 11.0m0 -11.0l-11.0 11.0M728.7 816.3l11.0 11.0m0 -11.0l-11.0 11.0M731.9 815.5l11.0 11.0m0 -11.0l-11.0 11.0M734.9 815.6l11.0 11.0m0 -11.0l-11.0 11.0M737.8 815.6l11.0 11.0m0 -11.0l-11.0 11.0M741.0 817.2l11.0 11.0m0 -11.0l-11.0 11.0M744.0 814.1l11.0 11.0m0 -11.0l-11.0 11.0M747.4 814.1l11.0 11.0m0 -11.0l-11.0 11.0M751.0 814.8l11.0 11.0m0 -11.0l-11.0 11.0M754.5 816.7l11.0 11.0m0 -11.0l-11.0 11.0M757.2 815.0l11.0 11.0m0 -11.0l-11.0 11.0M760.5 813.2l11.0 11.0m0 -11.0l-11.0 11.0M764.0 815.9l11.0 11.0m0 -11.0l-11.0 11.0M767.2 814.7l11.0 11.0m0 -11.0l-11.0 11.0M770.2 814.2l11.0 11.0m0 -11.0l-11.0 11.0M772.9 814.9l11.0 11.0m0 -11.0l-11.0 11.0" fill="none" stroke="#78f650" stroke-width="2"/>
<path d="M147.0 814.2l10 10m0 -10l-10 10M149.7 812.1l10 10m0 -10l-10 10M151.6 813.1l10 10m0 -10l-10 10M154.9 813.2l10 10m0 -10l-10 10M157.9 817.6l10 10m0 -10l-10 10" fill="none" stroke="#78f650" stroke-width="2.0"/>
<path d="M230.0 815.1l10 10m0 -10l-10 10M232.4 816.1l10 10m0 -10l-10 10M235.4 813.6l10 10m0 -10l-10 10M238.4 817.8l10 10m0 -10l-10 10M241.6 813.2l10 10m0 -10l-10 10M244.8 813.5l10 10m0 -10l-10 10M247.2 816.7l10 10m0 -10l-10 10M250.5 815.0l10 10m0 -10l-10 10M253.7 816.3l10 10m0 -10l-10 10M256.0 814.9l10 10m0 -10l-10 10" fill="none" stroke="#78f650" stroke-width="2.0"/>
<path d="M450.0 813.5l10 10m0 -10l-10 10M453.2 817.1l10 10m0 -10l-10 10M458.3 814.0l10 10m0 -10l-10 10M461.3 818.9l10 10m0 -10l-10 10M465.3 815.4l10 10m0 -10l-10 10M468.7 816.6l10 10m0 -10l-10 10M473.5 815.7l10 10m0 -10l-10 10M477.3 813.3l10 10m0 -10l-10 10M482.3 813.2l10 10m0 -10l-10 10M486.3 818.0l10 10m0 -10l-10 10M489.4 817.4l10 10m0 -10l-10 10M494.5 816.8l10 10m0 -10l-10 10" fill="none" stroke="#78f650" stroke-width="2.0"/>
<path d="M520.0 814.6l10 10m0 -10l-10 10M523.8 814.9l10 10m0 -10l-10 10M528.7 815.8l10 10m0 -10l-10 10M532.6 820.0l10 10m0 -10l-10 10M537.4 819.9l10 10m0 -10l-10 10M541.3 816.9l10 10m0 -10l-10 10M545.8 816.9l10 10m0 -10l-10 10M549.3 816.4l10 10m0 -10l-10 10M552.5 816.3l10 10m0 -10l-10 10" fill="none" stroke="#78f650" stroke-width="2.0"/>
<path d="M700.0 812.0L740.0 808.0L750.3 809.6L767.8 801.4L779.5 802.6L783.0 795.6L791.0 788.0L802.0 777.0L813.0 762.0L824.0 741.3L832.3 716.5L842.0 702.0L844.0 690.0L844.0 682.7L828.3 682.7L826.0 700.0L814.4 727.5L807.5 755.0L795.0 766.0L785.5 777.0L776.0 791.0L762.0 802.6L730.0 806.0Z" fill="#78f650"/>
<path d="M844.6 625.0L860.3 625.0L860.3 646.6L851.6 650.0L851.6 665.3L845.0 668.0L838.8 665.3L838.8 646.0L844.6 646.0Z" fill="#78f650"/>
<path d="M844.5 671.5l9.0 9.0m0 -9.0l-9.0 9.0M747.7 806.3l8.4 8.4m0 -8.4l-8.4 8.4M753.4 802.7l8.4 8.4m0 -8.4l-8.4 8.4M757.1 801.9l8.4 8.4m0 -8.4l-8.4 8.4M761.2 798.1l8.4 8.4m0 -8.4l-8.4 8.4M763.7 796.9l8.4 8.4m0 -8.4l-8.4 8.4M771.7 797.1l8.4 8.4m0 -8.4l-8.4 8.4M776.8 797.9l8.4 8.4m0 -8.4l-8.4 8.4M781.3 792.7l8.4 8.4m0 -8.4l-8.4 8.4M784.0 789.1l8.4 8.4m0 -8.4l-8.4 8.4M787.0 784.7l8.4 8.4m0 -8.4l-8.4 8.4M793.1 779.1l8.4 8.4m0 -8.4l-8.4 8.4M796.3 776.6l8.4 8.4m0 -8.4l-8.4 8.4M800.7 771.9l8.4 8.4m0 -8.4l-8.4 8.4M802.2 770.2l8.4 8.4m0 -8.4l-8.4 8.4M805.2 764.7l8.4 8.4m0 -8.4l-8.4 8.4M806.3 762.9l8.4 8.4m0 -8.4l-8.4 8.4M810.2 759.3l8.4 8.4m0 -8.4l-8.4 8.4M811.4 754.6l8.4 8.4m0 -8.4l-8.4 8.4M815.6 750.8l8.4 8.4m0 -8.4l-8.4 8.4M815.5 745.0l8.4 8.4m0 -8.4l-8.4 8.4M817.8 742.0l8.4 8.4m0 -8.4l-8.4 8.4M820.9 738.5l8.4 8.4m0 -8.4l-8.4 8.4M822.6 733.0l8.4 8.4m0 -8.4l-8.4 8.4M825.7 726.4l8.4 8.4m0 -8.4l-8.4 8.4M826.5 723.6l8.4 8.4m0 -8.4l-8.4 8.4M828.0 716.8l8.4 8.4m0 -8.4l-8.4 8.4M828.9 713.2l8.4 8.4m0 -8.4l-8.4 8.4M831.9 707.8l8.4 8.4m0 -8.4l-8.4 8.4M836.2 702.8l8.4 8.4m0 -8.4l-8.4 8.4M838.2 698.3l8.4 8.4m0 -8.4l-8.4 8.4M841.5 691.3l8.4 8.4m0 -8.4l-8.4 8.4M834.7 661.7l8.4 8.4m0 -8.4l-8.4 8.4M836.0 655.4l8.4 8.4m0 -8.4l-8.4 8.4M835.4 651.9l8.4 8.4m0 -8.4l-8.4 8.4M835.1 645.4l8.4 8.4m0 -8.4l-8.4 8.4M833.2 641.5l8.4 8.4m0 -8.4l-8.4 8.4M841.1 635.1l8.4 8.4m0 -8.4l-8.4 8.4M840.9 630.6l8.4 8.4m0 -8.4l-8.4 8.4M842.4 627.8l8.4 8.4m0 -8.4l-8.4 8.4M841.5 623.3l8.4 8.4m0 -8.4l-8.4 8.4M845.3 622.7l8.4 8.4m0 -8.4l-8.4 8.4M852.5 620.8l8.4 8.4m0 -8.4l-8.4 8.4M856.7 622.0l8.4 8.4m0 -8.4l-8.4 8.4M857.5 626.1l8.4 8.4m0 -8.4l-8.4 8.4M856.2 633.2l8.4 8.4m0 -8.4l-8.4 8.4M856.5 636.7l8.4 8.4m0 -8.4l-8.4 8.4M816.5 730.5l11.0 11.0m0 -11.0l-11.0 11.0M804.5 752.5l11.0 11.0m0 -11.0l-11.0 11.0M792.5 769.5l11.0 11.0m0 -11.0l-11.0 11.0M780.5 784.5l11.0 11.0m0 -11.0l-11.0 11.0M830.5 706.5l11.0 11.0m0 -11.0l-11.0 11.0M837.5 689.5l11.0 11.0m0 -11.0l-11.0 11.0" fill="none" stroke="#78f650" stroke-width="1.8"/>
<path d="M142.0 819.9h12m-6 -6v12M149.7 820.8h12m-6 -6v12M157.7 821.8h12m-6 -6v12M165.1 822.6h12m-6 -6v12M172.3 821.6h12m-6 -6v12M181.4 821.3h12m-6 -6v12M188.7 818.5h12m-6 -6v12M197.2 821.8h12m-6 -6v12M204.7 823.0h12m-6 -6v12M211.8 818.7h12m-6 -6v12M219.6 818.3h12m-6 -6v12M227.8 820.9h12m-6 -6v12M236.9 821.0h12m-6 -6v12M244.9 823.4h12m-6 -6v12M252.9 821.2h12m-6 -6v12M262.4 818.1h12m-6 -6v12M271.1 818.9h12m-6 -6v12M280.0 822.1h12m-6 -6v12M289.5 821.2h12m-6 -6v12M297.6 820.3h12m-6 -6v12M306.6 821.1h12m-6 -6v12M313.6 822.0h12m-6 -6v12M322.4 824.7h12m-6 -6v12M329.8 819.6h12m-6 -6v12M338.9 819.1h12m-6 -6v12M347.0 822.0h12m-6 -6v12M356.8 821.5h12m-6 -6v12M366.0 821.0h12m-6 -6v12M373.3 822.2h12m-6 -6v12M382.5 821.3h12m-6 -6v12M392.5 822.0h12m-6 -6v12M399.6 821.9h12m-6 -6v12M408.2 819.6h12m-6 -6v12M416.1 821.2h12m-6 -6v12M425.5 821.6h12m-6 -6v12M433.7 820.0h12m-6 -6v12M442.6 821.4h12m-6 -6v12M450.7 816.8h12m-6 -6v12M459.8 818.4h12m-6 -6v12M467.3 820.2h12m-6 -6v12M474.8 823.7h12m-6 -6v12M482.5 823.2h12m-6 -6v12M491.0 822.0h12m-6 -6v12M498.1 821.9h12m-6 -6v12M506.8 822.3h12m-6 -6v12M514.6 822.6h12m-6 -6v12M522.3 819.6h12m-6 -6v12M530.1 821.2h12m-6 -6v12M537.2 823.9h12m-6 -6v12M545.1 822.2h12m-6 -6v12M552.4 821.7h12m-6 -6v12M562.4 822.6h12m-6 -6v12M570.0 822.2h12m-6 -6v12M578.2 819.7h12m-6 -6v12M587.6 820.6h12m-6 -6v12M596.3 821.3h12m-6 -6v12M605.3 820.1h12m-6 -6v12M615.1 820.2h12m-6 -6v12M624.7 822.6h12m-6 -6v12M634.2 820.9h12m-6 -6v12M643.3 821.2h12m-6 -6v12M650.8 821.3h12m-6 -6v12M658.2 822.3h12m-6 -6v12M667.5 821.6h12m-6 -6v12M675.4 820.8h12m-6 -6v12M683.0 821.0h12m-6 -6v12M692.9 822.8h12m-6 -6v12M702.3 821.1h12m-6 -6v12M711.7 820.9h12m-6 -6v12M721.1 819.5h12m-6 -6v12M730.6 821.5h12m-6 -6v12M737.9 816.6h12m-6 -6v12M747.8 819.1h12m-6 -6v12" fill="none" stroke="#7ddaf8" stroke-width="1.8"/>
<path d="M162.0 822.8h12m-6 -6v12M164.8 820.0h12m-6 -6v12M167.1 817.5h12m-6 -6v12M169.4 821.7h12m-6 -6v12M172.6 819.2h12m-6 -6v12M175.6 821.6h12m-6 -6v12M178.5 821.0h12m-6 -6v12" fill="none" stroke="#7ddaf8" stroke-width="2.2"/>
<path d="M431.0 819.2h12m-6 -6v12M433.9 818.7h12m-6 -6v12M436.5 821.6h12m-6 -6v12M439.4 818.8h12m-6 -6v12" fill="none" stroke="#7ddaf8" stroke-width="2.2"/>
<path d="M630.0 821.9h12m-6 -6v12M632.7 818.1h12m-6 -6v12M635.4 819.5h12m-6 -6v12M638.3 820.8h12m-6 -6v12M641.4 821.9h12m-6 -6v12M644.4 820.1h12m-6 -6v12M647.2 822.4h12m-6 -6v12M650.4 820.1h12m-6 -6v12M653.5 823.2h12m-6 -6v12" fill="none" stroke="#7ddaf8" stroke-width="2.0"/>
<path d="M604.0 823.9h12m-6 -6v12M607.3 821.1h12m-6 -6v12M610.0 819.0h12m-6 -6v12M613.1 823.6h12m-6 -6v12M615.6 822.1h12m-6 -6v12" fill="none" stroke="#7ddaf8" stroke-width="2.0"/>
<path d="M705.0 813.5L714.0 812.0L718.6 802.6L738.5 799.0L752.6 795.6L762.0 780.4L773.7 768.6L783.0 761.6L787.0 757.0L790.0 747.6L793.4 741.8L797.0 734.7L806.0 721.4L813.8 702.3L816.6 699.0L827.0 699.0L827.0 710.0L814.4 727.5L807.5 755.0L795.0 766.0L785.5 777.0L780.0 781.0L776.0 791.0L762.0 802.6L750.0 805.0L750.3 810.8L730.0 812.0Z" fill="#7ddaf8"/>
<path d="M824.8 646.6L838.0 644.0L844.6 646.0L844.6 660.0L838.0 672.3L824.8 672.3Z" fill="#7ddaf8"/>
<path d="M846.4 575.2L860.4 575.2L860.4 588.6L846.4 588.6Z" fill="#7ddaf8"/>
<path d="M708.1 812.9h9.0m-4.5 -4.5v9.0M711.7 806.7h9.0m-4.5 -4.5v9.0M713.4 803.2h9.0m-4.5 -4.5v9.0M718.1 800.5h9.0m-4.5 -4.5v9.0M721.1 800.5h9.0m-4.5 -4.5v9.0M728.3 799.2h9.0m-4.5 -4.5v9.0M732.5 798.5h9.0m-4.5 -4.5v9.0M738.2 799.2h9.0m-4.5 -4.5v9.0M741.6 798.2h9.0m-4.5 -4.5v9.0M745.3 796.5h9.0m-4.5 -4.5v9.0M750.9 789.5h9.0m-4.5 -4.5v9.0M753.5 785.6h9.0m-4.5 -4.5v9.0M757.4 779.5h9.0m-4.5 -4.5v9.0M760.0 777.6h9.0m-4.5 -4.5v9.0M764.2 772.0h9.0m-4.5 -4.5v9.0M766.4 769.9h9.0m-4.5 -4.5v9.0M772.3 766.6h9.0m-4.5 -4.5v9.0M775.9 762.5h9.0m-4.5 -4.5v9.0M780.3 758.2h9.0m-4.5 -4.5v9.0M780.2 751.9h9.0m-4.5 -4.5v9.0M782.7 748.4h9.0m-4.5 -4.5v9.0M785.9 744.7h9.0m-4.5 -4.5v9.0M788.3 739.8h9.0m-4.5 -4.5v9.0M792.1 733.9h9.0m-4.5 -4.5v9.0M794.2 731.6h9.0m-4.5 -4.5v9.0M797.1 725.4h9.0m-4.5 -4.5v9.0M799.3 722.3h9.0m-4.5 -4.5v9.0M801.0 716.9h9.0m-4.5 -4.5v9.0M804.1 712.0h9.0m-4.5 -4.5v9.0M804.7 707.6h9.0m-4.5 -4.5v9.0M809.0 701.8h9.0m-4.5 -4.5v9.0M820.4 672.9h9.0m-4.5 -4.5v9.0M821.7 666.6h9.0m-4.5 -4.5v9.0M821.1 663.0h9.0m-4.5 -4.5v9.0M820.8 656.4h9.0m-4.5 -4.5v9.0M818.9 652.5h9.0m-4.5 -4.5v9.0M821.0 647.3h9.0m-4.5 -4.5v9.0M824.7 646.1h9.0m-4.5 -4.5v9.0M830.1 646.7h9.0m-4.5 -4.5v9.0M833.2 645.5h9.0m-4.5 -4.5v9.0M844.2 572.0h9.6m-4.8 -4.8v9.6M848.2 572.0h9.6m-4.8 -4.8v9.6M848.2 591.0h9.6m-4.8 -4.8v9.6M846.2 596.0h9.6m-4.8 -4.8v9.6M843.2 604.7h9.6m-4.8 -4.8v9.6M841.2 609.0h9.6m-4.8 -4.8v9.6M840.2 613.0h9.6m-4.8 -4.8v9.6M840.2 617.0h9.6m-4.8 -4.8v9.6M839.2 622.0h9.6m-4.8 -4.8v9.6M839.2 628.0h9.6m-4.8 -4.8v9.6M838.2 633.0h9.6m-4.8 -4.8v9.6M837.2 638.0h9.6m-4.8 -4.8v9.6M816.2 681.6h9.6m-4.8 -4.8v9.6M813.2 690.0h9.6m-4.8 -4.8v9.6M813.2 697.0h9.6m-4.8 -4.8v9.6M708.2 806.0h9.6m-4.8 -4.8v9.6M720.2 802.0h9.6m-4.8 -4.8v9.6M740.2 797.0h9.6m-4.8 -4.8v9.6M755.2 786.0h9.6m-4.8 -4.8v9.6M765.2 774.0h9.6m-4.8 -4.8v9.6M776.2 764.0h9.6m-4.8 -4.8v9.6M787.2 744.0h9.6m-4.8 -4.8v9.6M798.2 726.0h9.6m-4.8 -4.8v9.6" fill="none" stroke="#7ddaf8" stroke-width="1.5"/>
<path d="M148.5 815.9l6.6 11.9h-13.2zM155.8 816.2l6.6 11.9h-13.2zM161.3 815.4l6.6 11.9h-13.2zM167.3 814.4l6.6 11.9h-13.2zM174.3 816.1l6.6 11.9h-13.2zM180.3 814.7l6.6 11.9h-13.2zM185.9 814.6l6.6 11.9h-13.2zM193.2 815.0l6.6 11.9h-13.2zM199.0 815.5l6.6 11.9h-13.2zM205.9 815.5l6.6 11.9h-13.2zM212.3 816.5l6.6 11.9h-13.2zM219.0 815.4l6.6 11.9h-13.2zM224.3 815.5l6.6 11.9h-13.2zM230.2 815.1l6.6 11.9h-13.2zM236.5 815.2l6.6 11.9h-13.2zM242.5 814.8l6.6 11.9h-13.2zM249.8 816.1l6.6 11.9h-13.2zM255.4 815.7l6.6 11.9h-13.2zM262.2 814.7l6.6 11.9h-13.2zM267.5 816.0l6.6 11.9h-13.2zM274.9 815.1l6.6 11.9h-13.2zM280.5 814.2l6.6 11.9h-13.2zM285.9 815.9l6.6 11.9h-13.2zM291.6 814.3l6.6 11.9h-13.2zM297.4 813.5l6.6 11.9h-13.2zM302.9 813.7l6.6 11.9h-13.2zM308.2 817.1l6.6 11.9h-13.2zM314.8 814.4l6.6 11.9h-13.2zM320.4 816.0l6.6 11.9h-13.2zM326.9 816.4l6.6 11.9h-13.2zM333.5 814.2l6.6 11.9h-13.2zM339.7 814.8l6.6 11.9h-13.2zM346.8 815.0l6.6 11.9h-13.2zM353.5 814.1l6.6 11.9h-13.2zM359.6 815.5l6.6 11.9h-13.2zM365.6 815.3l6.6 11.9h-13.2zM372.0 816.3l6.6 11.9h-13.2zM378.3 816.3l6.6 11.9h-13.2zM384.4 815.4l6.6 11.9h-13.2zM390.9 813.7l6.6 11.9h-13.2zM396.3 814.2l6.6 11.9h-13.2zM402.4 816.5l6.6 11.9h-13.2zM408.2 815.1l6.6 11.9h-13.2zM415.1 816.0l6.6 11.9h-13.2zM422.2 815.1l6.6 11.9h-13.2zM427.5 816.1l6.6 11.9h-13.2zM433.1 815.1l6.6 11.9h-13.2zM440.2 814.1l6.6 11.9h-13.2zM447.3 813.7l6.6 11.9h-13.2zM454.3 812.7l6.6 11.9h-13.2zM459.5 815.0l6.6 11.9h-13.2zM466.6 815.1l6.6 11.9h-13.2zM473.6 814.6l6.6 11.9h-13.2zM479.8 813.6l6.6 11.9h-13.2zM485.3 814.8l6.6 11.9h-13.2zM491.0 815.0l6.6 11.9h-13.2zM497.4 815.0l6.6 11.9h-13.2zM504.3 814.6l6.6 11.9h-13.2zM511.3 815.2l6.6 11.9h-13.2zM518.5 815.3l6.6 11.9h-13.2zM525.7 814.2l6.6 11.9h-13.2zM532.7 815.6l6.6 11.9h-13.2zM538.0 815.8l6.6 11.9h-13.2zM543.1 814.3l6.6 11.9h-13.2zM550.1 816.5l6.6 11.9h-13.2zM555.4 815.5l6.6 11.9h-13.2zM562.6 815.9l6.6 11.9h-13.2zM569.1 815.5l6.6 11.9h-13.2zM576.6 815.0l6.6 11.9h-13.2zM582.1 814.1l6.6 11.9h-13.2zM588.9 814.0l6.6 11.9h-13.2zM594.4 814.8l6.6 11.9h-13.2zM599.4 814.5l6.6 11.9h-13.2zM605.3 814.8l6.6 11.9h-13.2zM611.0 816.2l6.6 11.9h-13.2zM617.5 815.0l6.6 11.9h-13.2zM622.8 814.7l6.6 11.9h-13.2zM629.5 814.8l6.6 11.9h-13.2zM634.8 815.3l6.6 11.9h-13.2zM642.2 814.6l6.6 11.9h-13.2zM647.7 814.7l6.6 11.9h-13.2zM655.2 814.7l6.6 11.9h-13.2zM661.1 814.0l6.6 11.9h-13.2zM666.8 814.8l6.6 11.9h-13.2zM673.4 815.4l6.6 11.9h-13.2zM679.5 815.6l6.6 11.9h-13.2zM685.6 814.5l6.6 11.9h-13.2zM691.9 815.9l6.6 11.9h-13.2zM698.7 814.9l6.6 11.9h-13.2zM704.2 814.6l6.6 11.9h-13.2zM711.4 814.9l6.6 11.9h-13.2zM717.1 815.9l6.6 11.9h-13.2zM723.3 814.2l6.6 11.9h-13.2zM730.6 814.2l6.6 11.9h-13.2zM737.1 816.1l6.6 11.9h-13.2zM743.2 816.0l6.6 11.9h-13.2zM748.9 815.5l6.6 11.9h-13.2zM755.0 815.8l6.6 11.9h-13.2zM761.8 815.0l6.6 11.9h-13.2zM768.5 815.2l6.6 11.9h-13.2zM773.8 816.0l6.6 11.9h-13.2zM781.0 815.2l6.6 11.9h-13.2z" fill="none" stroke="#b8261a" stroke-width="2.0"/>
<path d="M650.0 816.2l6.6 11.9h-13.2zM654.2 815.8l6.6 11.9h-13.2zM658.0 813.6l6.6 11.9h-13.2zM661.2 815.3l6.6 11.9h-13.2zM664.7 814.6l6.6 11.9h-13.2zM668.3 814.6l6.6 11.9h-13.2zM671.8 813.1l6.6 11.9h-13.2zM676.2 815.1l6.6 11.9h-13.2zM680.1 814.8l6.6 11.9h-13.2zM683.8 814.0l6.6 11.9h-13.2zM687.3 815.9l6.6 11.9h-13.2zM691.3 812.4l6.6 11.9h-13.2zM695.8 812.9l6.6 11.9h-13.2zM700.3 813.1l6.6 11.9h-13.2zM704.2 816.3l6.6 11.9h-13.2zM708.3 815.3l6.6 11.9h-13.2zM712.0 814.9l6.6 11.9h-13.2zM715.6 814.4l6.6 11.9h-13.2zM720.1 814.2l6.6 11.9h-13.2zM723.4 814.4l6.6 11.9h-13.2zM727.0 815.4l6.6 11.9h-13.2zM731.1 815.5l6.6 11.9h-13.2zM735.1 815.3l6.6 11.9h-13.2zM739.0 814.9l6.6 11.9h-13.2zM743.2 814.0l6.6 11.9h-13.2zM747.3 815.0l6.6 11.9h-13.2zM751.0 814.3l6.6 11.9h-13.2zM754.0 816.7l6.6 11.9h-13.2zM758.4 812.7l6.6 11.9h-13.2zM761.4 814.0l6.6 11.9h-13.2zM765.2 816.1l6.6 11.9h-13.2zM768.4 815.1l6.6 11.9h-13.2zM772.1 813.9l6.6 11.9h-13.2zM775.3 814.3l6.6 11.9h-13.2z" fill="none" stroke="#b8261a" stroke-width="2.0"/>
<path d="M453.0 813.0l7 12.6h-14zM600.0 812.0l7 12.6h-14zM745.0 806.0l7 12.6h-14zM774.0 801.0l7 12.6h-14zM150.0 813.0l7 12.6h-14zM230.0 814.0l7 12.6h-14zM330.0 814.0l7 12.6h-14z" fill="#b8261a" stroke="#b8261a" stroke-width="2"/>
<path d="M453.0 812.0l7.5 13.5h-15.0zM601.0 811.5l7.5 13.5h-15.0zM168.0 813.5l7.5 13.5h-15.0zM300.0 814.5l7.5 13.5h-15.0zM380.0 814.5l7.5 13.5h-15.0z" fill="#b8261a" stroke="#b8261a" stroke-width="1.5"/>
<path d="M738.5 812.0L738.5 809.6L743.2 807.3L771.3 801.4L773.7 800.3L783.0 799.0L797.0 790.9L800.7 787.0L815.8 773.0L826.8 757.0L842.7 741.0L846.0 735.0L850.0 730.5L860.6 730.5L860.6 752.3L851.6 752.3L851.6 760.6L843.4 760.6L843.4 781.3L828.2 781.3L826.8 795.0L812.4 795.0L812.4 808.0L798.0 808.0L798.0 812.0L781.9 819.0L780.7 823.7L752.6 822.5L750.3 827.0L738.5 827.0Z" fill="#b8261a"/>
</g>
<rect x="175.5" y="47" width="273.5" height="338" fill="#fff" stroke="#000" stroke-width="2.2"/>
<circle cx="223.4" cy="81.4" r="5.6" fill="none" stroke="#d84040" stroke-width="2"/>
<text class="sans" x="265.5" y="97.6" font-size="41" fill="#ea3824" textLength="172.5" lengthAdjust="spacingAndGlyphs">1<tspan dy="3.5">+</tspan><tspan dy="-3.5"> </tspan>inside</text>
<rect x="217.2" y="128.6" width="12.4" height="12.4" fill="none" stroke="#0614c8" stroke-width="2"/>
<text class="sans" x="265.5" y="151.0" font-size="41" fill="#0614c8" textLength="160.8" lengthAdjust="spacingAndGlyphs">3- inside</text>
<path d="M223.4 181.7L229.9 188.2L223.4 194.7L216.9 188.2Z" fill="none" stroke="#9040d8" stroke-width="2"/>
<text class="sans" x="265.5" y="204.4" font-size="41" fill="#9040d8" textLength="160.8" lengthAdjust="spacingAndGlyphs">1- inside</text>
<path d="M217.9 236.1L228.9 247.1M228.9 236.1L217.9 247.1" stroke="#70e050" stroke-width="1.8"/>
<text class="sans" x="265.5" y="257.8" font-size="41" fill="#70e050" textLength="172.5" lengthAdjust="spacingAndGlyphs">2<tspan dy="3.5">+</tspan><tspan dy="-3.5"> </tspan>inside</text>
<path d="M216.4 295.0H230.4M223.4 288.0V302.0" stroke="#80d8f0" stroke-width="1.6"/>
<text class="sans" x="265.5" y="311.2" font-size="41" fill="#80d8f0" textLength="160.8" lengthAdjust="spacingAndGlyphs">2- inside</text>
<path d="M223.4 341.9L229.9 354.4L216.9 354.4Z" fill="none" stroke="#c03020" stroke-width="2"/>
<text class="sans" x="265.5" y="364.6" font-size="41" fill="#c03020" textLength="172.5" lengthAdjust="spacingAndGlyphs">3<tspan dy="3.5">+</tspan><tspan dy="-3.5"> </tspan>inside</text>
<rect x="287" y="476" width="302" height="101" fill="#fff"/>
<text class="dv" x="289" y="515" font-size="33" fill="#1a1a1a" textLength="286" lengthAdjust="spacingAndGlyphs">outermost tapes</text>
<text class="dv" x="287.5" y="563" font-size="35" fill="#1a1a1a" textLength="142" lengthAdjust="spacingAndGlyphs">(1+, 3-)</text>
<rect x="747" y="358" width="278" height="97" fill="#fff"/>
<text class="dv" x="752.3" y="394" font-size="33" fill="#1a1a1a" textLength="227.5" lengthAdjust="spacingAndGlyphs">inner 4 tapes</text>
<text class="dv" x="751.5" y="442" font-size="35" fill="#1a1a1a" textLength="271" lengthAdjust="spacingAndGlyphs">(1-, 2+, 2-, 3+)</text>
<path d="M623.4 522.4L754.0 603.8" stroke="#1e1e1e" stroke-width="1.8"/>
<path d="M765.9 611.2L744.4 606.0L754.0 603.8L751.8 594.2Z" fill="#1e1e1e"/>
<path d="M936.6 467.1L879.6 572.7" stroke="#1e1e1e" stroke-width="1.8"/>
<path d="M873 585L876.8 563.2L879.6 572.7L889.1 569.8Z" fill="#1e1e1e"/>
<text class="sans" x="131" y="33.7" font-size="41.5" text-anchor="end" fill="#111">3</text>
<text class="sans" x="131" y="166.5" font-size="41.5" text-anchor="end" fill="#111">2.5</text>
<text class="sans" x="131" y="301.0" font-size="41.5" text-anchor="end" fill="#111">2</text>
<text class="sans" x="131" y="433.9" font-size="41.5" text-anchor="end" fill="#111">1.5</text>
<text class="sans" x="131" y="566.6" font-size="41.5" text-anchor="end" fill="#111">1</text>
<text class="sans" x="131" y="701.1" font-size="41.5" text-anchor="end" fill="#111">0.5</text>
<text class="serif" x="130.5" y="833.4" font-size="43" text-anchor="end" fill="#111">0</text>
<text class="dv" x="135.3" y="881.2" font-size="39.5" fill="#111" textLength="28" lengthAdjust="spacingAndGlyphs">0</text>
<text class="dv" x="269.5" y="881.2" font-size="39.5" fill="#111" textLength="57" lengthAdjust="spacingAndGlyphs">50</text>
<text class="dv" x="407.5" y="881.2" font-size="39.5" fill="#111" textLength="80" lengthAdjust="spacingAndGlyphs">100</text>
<text class="dv" x="555.2" y="881.2" font-size="39.5" fill="#111" textLength="82" lengthAdjust="spacingAndGlyphs">150</text>
<text class="dv" x="701.4" y="881.2" font-size="39.5" fill="#111" textLength="82" lengthAdjust="spacingAndGlyphs">200</text>
<text class="dv" x="850.8" y="881.2" font-size="39.5" fill="#111" textLength="82" lengthAdjust="spacingAndGlyphs">250</text>
<text class="dv" x="428" y="931.5" font-size="40" fill="#111" textLength="215" lengthAdjust="spacingAndGlyphs">current [A]</text>
<text class="sans" transform="translate(35.5 639.5) rotate(-90)" x="0" y="0" font-size="39" fill="#111" textLength="445" lengthAdjust="spacingAndGlyphs">Electric Field [microV/cm]</text>
</svg></body></html>
